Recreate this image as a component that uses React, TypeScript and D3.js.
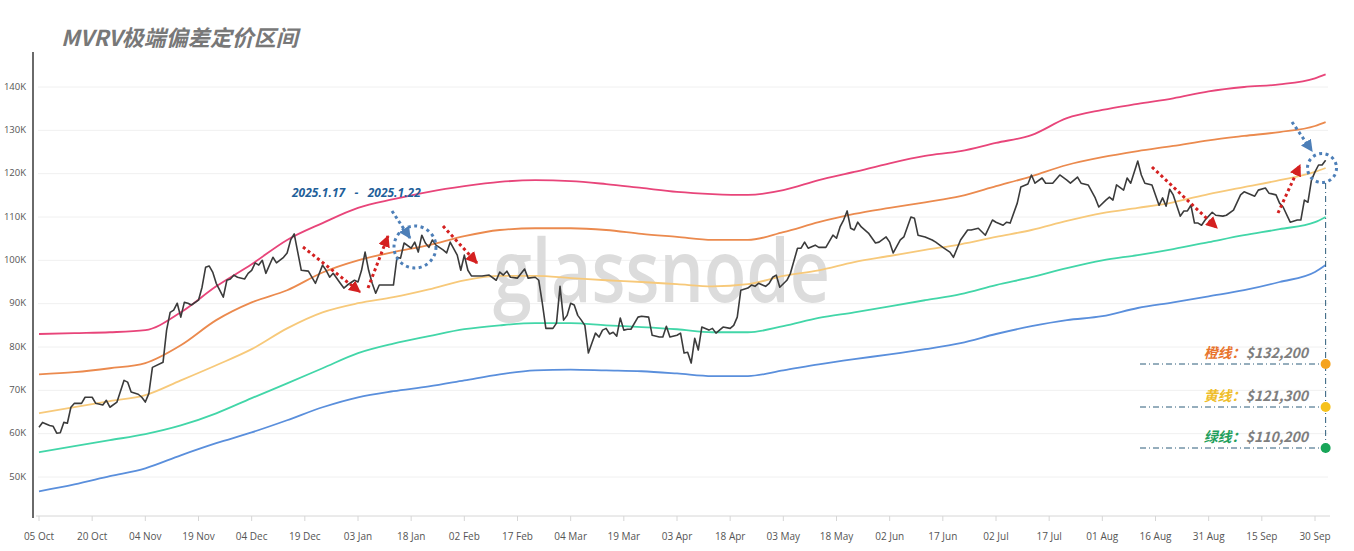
import React from "react";
import * as d3 from "d3";

// ---------- DATA ----------
const START = new Date(2024, 9, 5);
const LAST_TICK = new Date(2025, 8, 30);
const yTicks = [50, 60, 70, 80, 90, 100, 110, 120, 130, 140];

const bandDays = [0, 10, 20, 30, 40, 50, 60, 70, 80, 90, 100, 110, 120, 130, 140, 150, 160, 170, 180, 190, 200, 210, 220, 230, 240, 250, 260, 270, 280, 290, 300, 310, 320, 330, 340, 350, 360, 363];
const bandRed = [83.0, 83.2, 83.4, 83.9, 88.0, 94.0, 99.1, 104.7, 108.6, 112.1, 114.1, 115.8, 117.1, 118.1, 118.5, 118.3, 117.6, 116.7, 115.8, 115.3, 115.1, 116.2, 118.5, 120.4, 122.4, 124.1, 125.2, 127.1, 128.9, 132.8, 134.7, 136.1, 137.4, 139.0, 140.0, 140.6, 142.0, 142.9];
const bandOrange = [73.7, 74.2, 75.1, 76.3, 80.4, 86.2, 90.3, 93.1, 97.2, 100.0, 101.9, 103.5, 105.6, 107.0, 107.4, 107.4, 107.0, 106.1, 105.4, 104.7, 104.7, 106.5, 108.8, 110.7, 112.1, 113.4, 114.8, 117.1, 119.4, 122.0, 123.8, 125.2, 126.4, 127.7, 128.7, 129.6, 131.0, 131.9];
const bandYellow = [64.7, 66.1, 67.5, 68.9, 72.3, 75.8, 79.5, 84.3, 88.0, 90.1, 91.5, 93.3, 95.4, 96.4, 96.4, 95.9, 95.4, 95.0, 94.5, 94.0, 94.5, 96.4, 97.7, 99.6, 101.0, 102.4, 103.7, 105.4, 107.0, 109.1, 110.9, 112.1, 113.4, 115.3, 116.9, 118.5, 120.4, 121.3];
const bandGreen = [55.7, 57.1, 58.5, 59.9, 61.9, 64.7, 68.2, 71.6, 75.1, 78.6, 80.8, 82.5, 84.1, 85.0, 85.5, 85.5, 85.0, 84.6, 84.1, 83.4, 83.4, 84.8, 86.7, 88.0, 89.4, 90.8, 92.2, 94.3, 96.1, 98.2, 100.0, 101.2, 102.6, 104.2, 105.8, 107.2, 108.8, 110.0];
const bandBlue = [46.7, 48.3, 50.2, 52.0, 55.0, 57.8, 60.3, 63.1, 66.1, 68.4, 69.8, 70.9, 72.3, 73.7, 74.6, 74.8, 74.6, 74.4, 73.9, 73.3, 73.3, 74.6, 76.0, 77.2, 78.3, 79.5, 80.9, 83.0, 84.8, 86.2, 87.1, 89.0, 90.3, 91.7, 93.1, 95.0, 97.3, 98.9];

const priceDays = [0, 1, 3, 4, 5, 6, 7, 8, 9, 10, 12, 13, 15, 16, 18, 19, 20, 22, 24, 25, 26, 28, 29, 30, 31, 32, 35, 36, 37, 38, 39, 40, 41, 42, 43, 45, 46, 47, 48, 49, 50, 52, 53, 54, 55, 56, 58, 59, 60, 61, 62, 63, 64, 66, 67, 69, 70, 71, 72, 73, 74, 76, 78, 80, 81, 82, 83, 85, 86, 87, 89, 90, 91, 92, 93, 94, 95, 96, 98, 100, 101, 102, 103, 105, 106, 107, 108, 109, 110, 111, 112, 114, 115, 116, 118, 119, 120, 121, 122, 125, 127, 129, 130, 131, 132, 133, 135, 137, 138, 140, 141, 142, 143, 145, 146, 147, 148, 149, 150, 151, 152, 153, 154, 155, 156, 157, 158, 159, 160, 161, 162, 163, 164, 165, 166, 167, 169, 170, 172, 173, 175, 176, 177, 178, 180, 181, 182, 183, 184, 185, 186, 187, 189, 190, 191, 192, 193, 195, 196, 197, 198, 200, 201, 202, 203, 205, 206, 207, 208, 209, 211, 212, 214, 215, 216, 217, 219, 220, 222, 224, 225, 226, 227, 228, 229, 230, 231, 232, 234, 236, 237, 239, 240, 241, 243, 244, 246, 247, 248, 250, 252, 253, 255, 257, 258, 260, 262, 263, 265, 267, 269, 270, 272, 273, 274, 276, 277, 279, 280, 281, 283, 284, 286, 288, 290, 291, 293, 294, 296, 298, 299, 301, 302, 303, 304, 306, 307, 308, 310, 311, 312, 314, 316, 317, 318, 319, 320, 322, 323, 324, 325, 326, 327, 328, 329, 331, 332, 334, 335, 337, 339, 340, 341, 343, 344, 346, 347, 349, 350, 351, 353, 355, 356, 357, 358, 359, 360, 361, 362, 363];
const priceValues = [61.5, 62.6, 61.9, 61.7, 60.1, 60.2, 62.6, 62.4, 66.1, 67.0, 67.0, 68.4, 68.4, 67.0, 66.6, 67.7, 66.1, 67.3, 72.3, 71.9, 69.6, 69.1, 68.4, 67.3, 69.3, 75.3, 76.5, 83.9, 88.0, 88.5, 90.1, 86.9, 90.3, 90.1, 89.7, 90.8, 93.8, 98.4, 98.7, 97.3, 94.7, 91.5, 95.4, 95.7, 96.6, 96.1, 95.7, 97.0, 97.7, 99.4, 98.9, 100.0, 97.0, 100.7, 99.4, 100.7, 101.7, 104.7, 106.1, 101.9, 97.7, 97.5, 94.7, 98.9, 97.7, 96.1, 97.0, 94.7, 93.6, 94.3, 95.4, 95.0, 97.7, 101.9, 97.7, 94.7, 92.4, 94.3, 94.3, 94.3, 100.7, 100.5, 104.0, 102.8, 104.2, 101.9, 105.8, 104.0, 103.0, 104.7, 103.5, 102.4, 101.7, 104.2, 101.2, 97.7, 101.2, 97.7, 96.4, 96.4, 96.6, 95.4, 97.3, 96.6, 97.5, 96.1, 95.9, 98.0, 95.9, 96.1, 95.4, 90.1, 84.3, 84.3, 85.5, 94.0, 86.2, 87.3, 90.1, 89.7, 87.3, 86.2, 85.0, 78.6, 80.9, 83.2, 82.3, 83.9, 84.3, 83.0, 83.4, 82.5, 86.7, 83.9, 84.1, 84.1, 86.9, 87.1, 86.9, 82.7, 82.3, 82.3, 84.8, 82.3, 82.7, 83.2, 78.6, 78.8, 76.3, 82.0, 79.3, 84.6, 83.9, 84.3, 83.2, 83.9, 84.6, 84.3, 85.0, 86.9, 93.1, 93.6, 94.3, 94.0, 94.7, 94.0, 94.7, 96.1, 96.6, 93.8, 95.4, 97.0, 102.8, 102.8, 104.2, 102.8, 103.5, 103.0, 103.0, 105.8, 105.1, 107.7, 109.3, 111.4, 107.4, 107.0, 108.8, 107.7, 106.3, 104.0, 104.2, 105.4, 104.2, 101.7, 104.7, 105.4, 110.0, 109.7, 105.8, 105.4, 104.7, 104.2, 103.0, 101.9, 100.7, 104.7, 107.0, 107.0, 107.4, 105.8, 109.3, 108.8, 108.1, 108.8, 108.6, 113.2, 116.9, 117.6, 119.7, 117.8, 119.0, 117.8, 117.8, 119.7, 118.5, 117.8, 119.2, 117.8, 117.4, 114.4, 112.3, 113.9, 114.6, 113.9, 117.4, 116.2, 119.0, 117.8, 122.9, 119.7, 117.8, 117.4, 112.7, 114.4, 112.5, 116.4, 115.1, 110.2, 111.4, 111.4, 112.7, 108.6, 108.6, 108.1, 109.3, 111.1, 110.4, 110.2, 110.4, 111.6, 115.1, 115.8, 115.5, 114.8, 116.2, 116.7, 115.5, 115.1, 113.2, 112.3, 108.8, 109.3, 109.3, 113.9, 113.4, 118.5, 120.4, 122.0, 122.0, 123.1];

const labelNames = ["橙线：", "黄线：", "绿线："];
const labelValues = ["$132,200", "$121,300", "$110,200"];

// ---------- STYLE / LAYOUT ----------
const W = 1354;
const H = 551;
const bandColors = ["#e8457a", "#eb8a4e", "#f7c97a", "#42d6a8", "#5a8fdc"];
const labelColors = ["#e8732c", "#efbd2a", "#1f9f5c"];
const dotColors = ["#f5a31e", "#f6c21c", "#18a558"];
const labelRows = [364, 407, 448];
const annColor = "#2d5d7b";
const red = "#d42020";
const blue = "#4d7fb8";

const x = d3.scaleTime().domain([START, LAST_TICK]).range([39, 1315]);
const y = d3.scaleLinear().domain([50, 140]).range([477, 87]);

const dayDate = (d: number) => d3.timeDay.offset(START, d);
const bandLine = d3
  .line<[number, number]>()
  .x((p) => x(dayDate(p[0])))
  .y((p) => y(p[1]))
  .curve(d3.curveMonotoneX);
const priceLine = d3
  .line<[number, number]>()
  .x((p) => x(dayDate(p[0])))
  .y((p) => y(p[1]));

const bands = [bandRed, bandOrange, bandYellow, bandGreen, bandBlue];
const xTicks = d3.range(0, 361, 15).map(dayDate);
const fmt = d3.timeFormat("%d %b");

const redArrows = [
  [303, 247, 360, 292],
  [368, 288, 388, 236],
  [443, 226, 477, 263],
  [1152, 167, 1217, 228],
  [1278, 213, 1300, 165],
];
const blueArrows = [
  [392, 211, 410, 238],
  [1292, 122, 1312, 151],
];

export default function App() {
  const axisFont = "'Open Sans', 'DejaVu Sans', sans-serif";
  const lastX = x(dayDate(363));
  return (
    <svg
      width={W}
      height={H}
      style={{ position: "absolute", left: 0, top: 0, background: "#fff" }}
    >
      <defs>
        <marker id="arrRed" viewBox="0 0 10 10" refX="9" refY="5" markerWidth="12" markerHeight="12" markerUnits="userSpaceOnUse" orient="auto">
          <path d="M0,0 L10,5 L0,10 z" fill={red} />
        </marker>
        <marker id="arrBlue" viewBox="0 0 10 10" refX="9" refY="5" markerWidth="12" markerHeight="12" markerUnits="userSpaceOnUse" orient="auto">
          <path d="M0,0 L10,5 L0,10 z" fill={blue} />
        </marker>
      </defs>
      <rect width={W} height={H} fill="#fff" />

      {/* gridlines */}
      {yTicks.map((t) => (
        <line key={t} x1={38} x2={1328} y1={y(t)} y2={y(t)} stroke="#f0f0f0" strokeWidth={1} />
      ))}

      {/* watermark */}
      <text
        x={493}
        y={302}
        fontSize={86}
        fontFamily="'Open Sans', 'Noto Sans', sans-serif"
        fontWeight={600}
        fill="#dcdcdc"
        textLength={337}
        lengthAdjust="spacingAndGlyphs"
      >
        glassnode
      </text>

      {/* y axis */}
      <line x1={33} x2={33} y1={52} y2={518} stroke="#6a6a6a" strokeWidth={2} />
      {yTicks.map((t) => (
        <text key={t} x={26} y={y(t)} textAnchor="end" dominantBaseline="middle" fontSize={9.5} fill="#555" fontFamily={axisFont}>
          {t}K
        </text>
      ))}

      {/* x axis */}
      <line x1={36} x2={1330} y1={516} y2={516} stroke="#d6d6d6" strokeWidth={1} />
      {xTicks.map((d, i) => (
        <g key={i}>
          <line x1={x(d)} x2={x(d)} y1={516} y2={521} stroke="#d6d6d6" />
          <text x={x(d)} y={537} textAnchor="middle" dominantBaseline="middle" fontSize={10} fill="#555" fontFamily={axisFont}>
            {fmt(d)}
          </text>
        </g>
      ))}

      {/* bands */}
      {bands.map((b, i) => (
        <path
          key={i}
          d={bandLine(bandDays.map((d, j) => [d, b[j]] as [number, number])) || ""}
          fill="none"
          stroke={bandColors[i]}
          strokeWidth={1.8}
        />
      ))}

      {/* price */}
      <path
        d={priceLine(priceDays.map((d, j) => [d, priceValues[j]] as [number, number])) || ""}
        fill="none"
        stroke="#3b3b3b"
        strokeWidth={1.6}
        strokeLinejoin="round"
      />

      {/* title */}
      <text x={61} y={46} fontSize={22} fontWeight={700} fontStyle="italic" fill="#787878" fontFamily="'Noto Sans CJK SC', 'Noto Sans', sans-serif">
        MVRV极端偏差定价区间
      </text>

      {/* annotation text */}
      <text x={292} y={197} fontSize={12} fontWeight={700} fontStyle="italic" fill="#1f5f9a" fontFamily="'Open Sans', 'Noto Sans', sans-serif" style={{ whiteSpace: "pre" }}>
        {"2025.1.17   -   2025.1.22"}
      </text>

      {/* arrows */}
      {redArrows.map((a, i) => (
        <line key={"r" + i} x1={a[0]} y1={a[1]} x2={a[2]} y2={a[3]} stroke={red} strokeWidth={3} strokeDasharray="3 3" markerEnd="url(#arrRed)" />
      ))}
      {blueArrows.map((a, i) => (
        <line key={"b" + i} x1={a[0]} y1={a[1]} x2={a[2]} y2={a[3]} stroke={blue} strokeWidth={3} strokeDasharray="3 3" markerEnd="url(#arrBlue)" />
      ))}
      <circle cx={415} cy={247} r={21} fill="none" stroke={blue} strokeWidth={3} strokeDasharray="3 3.5" />
      <circle cx={1322} cy={168} r={14.5} fill="none" stroke={blue} strokeWidth={3} strokeDasharray="3 3.5" />

      {/* right side dash-dot guides */}
      <line x1={lastX} x2={lastX} y1={183} y2={456} stroke={annColor} strokeWidth={1} strokeDasharray="6 3 1 3" />
      {labelRows.map((ry, i) => (
        <g key={i}>
          <line x1={1140} x2={lastX} y1={ry} y2={ry} stroke={annColor} strokeWidth={1} strokeDasharray="6 3 1 3" />
          <circle cx={lastX} cy={ry} r={5} fill={dotColors[i]} />
          <text x={1308} y={ry - 6} textAnchor="end" fontSize={14} fontWeight={700} fontStyle="italic" fontFamily="'Noto Sans CJK SC', 'Open Sans', sans-serif">
            <tspan fill={labelColors[i]}>{labelNames[i]}</tspan>
            <tspan fill="#7e7e7e">{labelValues[i]}</tspan>
          </text>
        </g>
      ))}
    </svg>
  );
}
